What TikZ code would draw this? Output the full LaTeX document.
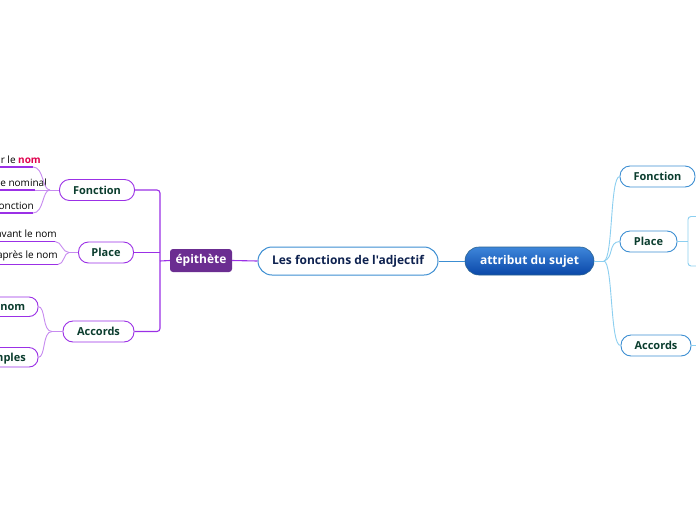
\documentclass[tikz,border=0pt]{standalone}
\usepackage{fontspec}
\setmainfont{Open Sans}[Ligatures=TeXOff]
\definecolor{vio}{HTML}{9B30E6}
\definecolor{violight}{HTML}{C78BF0}
\definecolor{epifill}{HTML}{6B2D91}
\definecolor{bluebd}{HTML}{3C8ED2}
\definecolor{bluelight}{HTML}{8CCFF0}
\definecolor{dkgreen}{HTML}{0B3D2E}
\definecolor{navy}{HTML}{0E2250}
\definecolor{redn}{HTML}{E0004D}
\definecolor{attrtop}{HTML}{3E86DA}
\definecolor{attrbot}{HTML}{0A47A8}
\tikzset{
  vline/.style={draw=vio, line width=1.1pt},
  vthin/.style={draw=violight, line width=0.9pt},
  bline/.style={draw=bluelight, line width=0.9pt},
  subL/.style={draw=vio, fill=white, line width=0.9pt, rounded corners=10pt,
     text=dkgreen, font=\fontsize{11}{13}\selectfont\bfseries, inner sep=0pt, minimum height=21pt},
  subR/.style={draw=bluebd, fill=white, line width=0.9pt, rounded corners=10pt,
     text=dkgreen, font=\fontsize{11}{13}\selectfont\bfseries, inner sep=0pt, minimum height=21pt},
  leaf/.style={anchor=south east, inner sep=0pt, font=\fontsize{10}{12}\selectfont, text=black},
  leafbox/.style={draw=vio, fill=white, line width=0.9pt, rounded corners=9pt},
  leafbold/.style={anchor=east, inner sep=0pt, text=dkgreen, font=\fontsize{11}{13}\selectfont\bfseries}
}
\begin{document}
\begin{tikzpicture}[x=1pt,y=-1pt]
\useasboundingbox (0,0) rectangle (696,520);
\fill[white] (0,0) rectangle (696,520);

% central nodes
\node[draw=bluebd, fill=white, line width=1pt, rounded corners=14pt, minimum width=180pt, minimum height=28pt,
  inner sep=0pt, text=navy, font=\fontsize{12}{14}\selectfont\bfseries] (center) at (348,261) {\raisebox{-1pt}{Les fonctions de l'adjectif}};
\node[draw=bluebd!70!black, top color=attrtop, bottom color=attrbot, line width=0.6pt, rounded corners=14pt,
  minimum width=129pt, minimum height=28pt, inner sep=0pt, text=white, font=\fontsize{12}{14}\selectfont\bfseries] (attr) at (529.5,261) {\raisebox{-1pt}{attribut du sujet}};
\node[fill=epifill, rounded corners=3pt, minimum width=62pt, minimum height=23pt, inner sep=0pt,
  text=white, font=\fontsize{12}{14}\selectfont\bfseries] (epi) at (201,260.5) {\raisebox{-1pt}{épithète}};

\draw[vline] (epi.east) -- (center.west);
\draw[draw=bluebd, line width=1pt] (center.east) -- (attr.west);

% left subtopics
\node[subL, minimum width=75pt] (Lfon) at (97,190) {\raisebox{-1pt}{Fonction}};
\node[subL, minimum width=55pt] (Lpla) at (106,252.5) {\raisebox{-1pt}{Place}};
\node[subL, minimum width=71pt] (Lacc) at (98.5,331.5) {\raisebox{-1pt}{Accords}};

\coordinate (jv) at (160,261);
\draw[vline, rounded corners=3pt] (Lfon.east) -- (160,190) -- (160,331.5) -- (Lacc.east);
\draw[vline] (Lpla.east) -- (160,252.5);
\draw[vline] (jv) -- (epi.west);

% Fonction leaves
\node[leaf] (a1) at (41,164) {ur le \textcolor{redn}{\bfseries nom}};
\node[leaf] (a2) at (47,187) {e nominal};
\node[leaf] (a3) at (34,210) {onction};
\coordinate (a1e) at (33,167);
\coordinate (a2e) at (35,190);
\coordinate (a3e) at (33,213);
\coordinate (fj) at (50,190);
\draw[vline] (-5,167) -- (a1e);
\draw[vline] (-5,190) -- (a2e);
\draw[vline] (-5,213) -- (a3e);
\draw[vthin] (a1e) .. controls (44,167) and (42,190) .. (fj);
\draw[vthin] (a3e) .. controls (44,213) and (42,190) .. (fj);
\draw[vthin] (a2e) -- (fj);
\draw[vthin] (fj) -- (Lfon.west);

% Place leaves
\node[leaf] (b1) at (57,238) {avant le nom};
\node[leaf] (b2) at (58,261) {après le nom};
\coordinate (b1e) at (55,241.5);
\coordinate (b2e) at (58,264.5);
\coordinate (pj) at (69,252.5);
\draw[vline] (-5,241.5) -- (b1e);
\draw[vline] (-5,264.5) -- (b2e);
\draw[vthin] (b1e) .. controls (62,241.5) and (62,252.5) .. (pj);
\draw[vthin] (b2e) .. controls (64,264.5) and (64,252.5) .. (pj);
\draw[vthin] (pj) -- (Lpla.west);

% Accords leaves
\draw[leafbox] (-30,297) rectangle (38,316.5);
\node[leafbold] (c1) at (25.5,307.5) {e nom};
\draw[leafbox] (-30,347.5) rectangle (38,367);
\node[leafbold] (c2) at (26,358.5) {mples};
\coordinate (c1e) at (38,306.5);
\coordinate (c2e) at (38,357.5);
\coordinate (aj) at (52,331.5);
\draw[vthin] (c1e) .. controls (46,306.5) and (42,331.5) .. (aj);
\draw[vthin] (c2e) .. controls (46,357.5) and (42,331.5) .. (aj);
\draw[vthin] (aj) -- (Lacc.west);

% right subtopics
\node[subR, minimum width=75pt] (Rfon) at (657.5,176.5) {\raisebox{-1pt}{Fonction}};
\node[subR, minimum width=57pt] (Rpla) at (648.5,241.5) {\raisebox{-1pt}{Place}};
\node[subR, minimum width=70pt] (Racc) at (656,345.5) {\raisebox{-1pt}{Accords}};

\coordinate (rj) at (604,261);
\draw[bline] (attr.east) -- (rj);
\draw[bline] (rj) .. controls (613,259) and (610,177) .. (Rfon.west);
\draw[bline] (rj) .. controls (614,258) and (608,242) .. (Rpla.west);
\draw[bline] (rj) .. controls (613,263) and (610,346) .. (Racc.west);

\coordinate (pb) at (688,241.5);
\draw[bline] (Rpla.east) -- (pb);
\draw[bline, rounded corners=3pt] (700,216.5) -- (688,216.5) -- (688,266) -- (700,266);
\coordinate (ra) at (700,345.5);
\draw[bline] (Racc.east) -- (ra);
\end{tikzpicture}
\end{document}
